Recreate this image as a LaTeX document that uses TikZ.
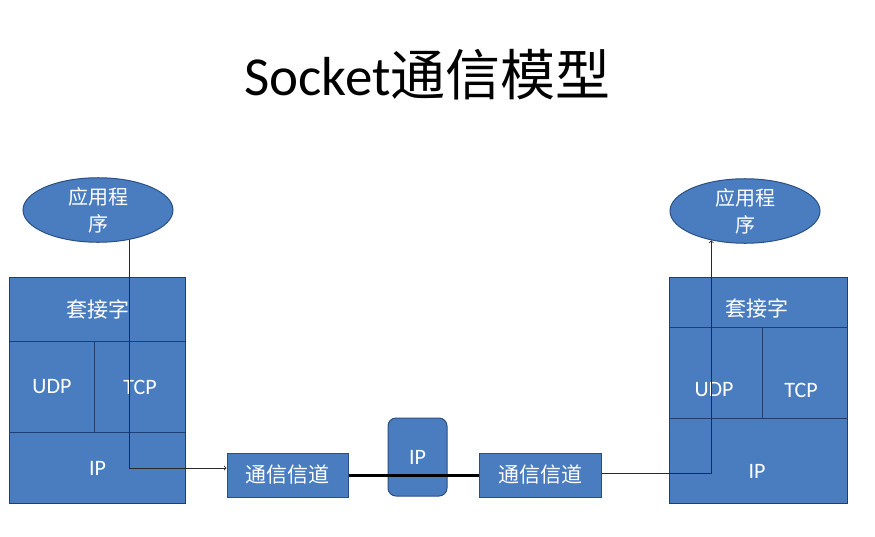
\documentclass[tikz,border=0pt]{standalone}
\usepackage{fontspec}
\setmainfont{Carlito}
\newfontfamily\cjk{Noto Sans CJK SC}
\usetikzlibrary{shapes.geometric}
\definecolor{boxblue}{HTML}{4A7DC0}
\definecolor{edgeblue}{HTML}{2A4F85}
\definecolor{sepblue}{HTML}{1F3F73}
\definecolor{conn}{HTML}{2A2A2A}
\tikzset{
  cell/.style={draw=sepblue, fill=boxblue, line width=1pt, inner sep=0pt, anchor=north west, text=white, font=\fontsize{22}{24}\selectfont},
  ctext/.style={text=white, font=\fontsize{22}{24}\selectfont},
  appell/.style={ellipse, draw=edgeblue, fill=boxblue, line width=1pt, inner sep=0pt, minimum width=150pt, minimum height=64pt, text=white, align=center, font=\cjk\fontsize{20}{27}\selectfont},
  chanbox/.style={draw=edgeblue, fill=boxblue, line width=1pt, inner sep=0pt, minimum width=121pt, minimum height=44pt, text=white, font=\cjk\fontsize{21}{24}\selectfont},
  ipbox/.style={draw=edgeblue, fill=boxblue, line width=1pt, inner sep=0pt, rounded corners=8pt, minimum width=59pt, minimum height=78pt, text=white, font=\fontsize{22}{24}\selectfont},
  conline/.style={draw=conn, line width=0.8pt, ->},
  thickline/.style={draw=black, line width=3pt}
}
\begin{document}
\begin{tikzpicture}[x=1pt,y=-1pt]
\fill[white] (0,0) rectangle (875,536);
\useasboundingbox (0,0) rectangle (875,536);

% title
\node[font=\fontsize{55}{66}\selectfont, inner sep=0pt] (title) at (427.5,75) {Socket{\cjk 通信模型}};

% left stack
\node[appell] (ell1) at (98,210) {应用程\\序};
\node[cell, minimum width=176pt, minimum height=64pt] (sock1) at (9,277) {\cjk\fontsize{21}{24}\selectfont 套接字};
\node[cell, minimum width=85pt, minimum height=91pt] (udp1) at (9,341) {UDP};
\node[cell, minimum width=91pt, minimum height=91pt] (tcp1) at (94,341) {TCP};
\node[cell, minimum width=176pt, minimum height=71pt] (ip1) at (9,432) {IP};

% right stack
\node[appell] (ell2) at (745,211) {应用程\\序};
\node[cell, minimum width=178pt, minimum height=50pt] (sock2) at (669,277) {};
\node[cell, minimum width=93pt, minimum height=91pt] (udp2) at (669,327) {};
\node[cell, minimum width=85pt, minimum height=91pt] (tcp2) at (762,327) {};
\node[cell, minimum width=178pt, minimum height=85pt] (ip2) at (669,418) {};
\node[ctext, font=\cjk\fontsize{21}{24}\selectfont] (sock2t) at (757,308) {套接字};
\node[ctext] (udp2t) at (714,390) {UDP};
\node[ctext] (tcp2t) at (801,390) {TCP};
\node[ctext] (ip2t) at (757,471) {IP};

% channels
\node[chanbox] (ch1) at (287.5,475) {通信信道};
\node[chanbox, minimum width=122pt] (ch2) at (540,475) {通信信道};
\node[ipbox] (ipmid) at (417.5,457) {IP};
\draw[thickline] (ch1.east) -- (ch2.west);

% connectors
\draw[conline] (ell1.-44.3) |- ([yshift=7pt]ch1.west);
\draw[conline] ([yshift=2pt]ch2.east) -| (ell2.-139.9);
\end{tikzpicture}
\end{document}
